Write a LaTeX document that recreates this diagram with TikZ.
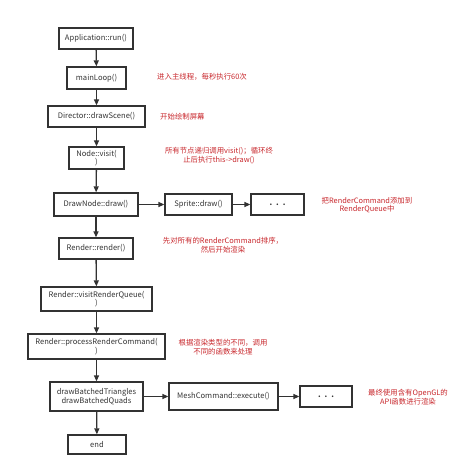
\documentclass[tikz,border=0pt]{standalone}
\usepackage{fontspec}
\setmainfont{Noto Sans CJK SC}
\usetikzlibrary{arrows.meta}
\definecolor{boxline}{RGB}{50,50,50}
\definecolor{note}{RGB}{200,40,45}
\tikzset{
  box/.style={draw=boxline, line width=1.3pt, rectangle, inner sep=0pt, align=center,
    font=\fontsize{7.6}{8.6}\selectfont, text=black!80},
  flow/.style={draw=boxline, line width=1.3pt, -{Triangle[length=6pt,width=5pt]}},
  notetext/.style={text=note, align=center, font=\fontsize{7.4}{8.8}\selectfont, inner sep=0pt}
}
\begin{document}
\begin{tikzpicture}[x=1pt,y=-1pt]
\useasboundingbox (0,0) rectangle (474,473);
\node[box, minimum width=74pt, minimum height=21pt] (app) at (96,38.5) {Application::run()};
\node[box, minimum width=59pt, minimum height=22pt] (main) at (96.5,78) {mainLoop()};
\node[box, minimum width=97pt, minimum height=21pt] (dir) at (96.5,116.5) {Director::drawScene()};
\node[box, minimum width=55pt, minimum height=22pt] (visit) at (96.5,158) {Node::visit(\\)};
\node[box, minimum width=84pt, minimum height=23pt] (drawnode) at (96,204.5) {DrawNode::draw()};
\node[box, minimum width=67pt, minimum height=21pt] (sprite) at (198.5,204.5) {Sprite::draw()};
\node[box, minimum width=53pt, minimum height=21pt] (dotsa) at (277.5,204.5) {\textbf{.\hspace{4pt}.\hspace{4pt}.}};
\node[box, minimum width=74pt, minimum height=21pt] (render) at (96,248.5) {Render::render()};
\node[box, minimum width=111pt, minimum height=24pt] (vrq) at (96.5,299) {Render::visitRenderQueue(\\)};
\node[box, minimum width=137pt, minimum height=25pt] (prc) at (96.5,346.5) {Render::processRenderCommand(\\)};
\node[box, minimum width=93pt, minimum height=29pt] (dbt) at (96.5,396.5) {drawBatchedTriangles\\drawBatchedQuads};
\node[box, minimum width=109pt, minimum height=27pt] (mesh) at (223.5,396.5) {MeshCommand::execute()};
\node[box, minimum width=52pt, minimum height=21pt] (dotsb) at (326,396.5) {\textbf{.\hspace{4pt}.\hspace{4pt}.}};
\node[box, minimum width=58pt, minimum height=19pt] (end) at (97,444.5) {end};

\draw[flow] (app) -- (main);
\draw[flow] (main) -- (dir);
\draw[flow] (dir) -- (visit);
\draw[flow] (visit) -- (drawnode);
\draw[flow] (drawnode) -- (sprite);
\draw[flow] (sprite) -- (dotsa);
\draw[flow] (drawnode) -- (render);
\draw[flow] (render) -- (vrq);
\draw[flow] (vrq) -- (prc);
\draw[flow] (prc) -- (dbt);
\draw[flow] (dbt) -- (mesh);
\draw[flow] (mesh) -- (dotsb);
\draw[flow] (dbt) -- (end);

\node[notetext, anchor=west] (n1) at (157,77) {进入主线程，每秒执行60次};
\node[notetext, anchor=west] (n2) at (160,117) {开始绘制屏幕};
\node[notetext] (n3) at (219,156) {所有节点递归调用visit()；循环终\\止后执行this->draw()};
\node[notetext] (n4) at (367,205) {把RenderCommand添加到\\RenderQueue中};
\node[notetext] (n5) at (223,245) {先对所有的RenderCommand排序，\\然后开始渲染};
\node[notetext] (n6) at (223,347.5) {根据渲染类型的不同，调用\\不同的函数来处理};
\node[notetext] (n7) at (408,397) {最终使用含有OpenGL的\\API函数进行渲染};
\end{tikzpicture}
\end{document}
